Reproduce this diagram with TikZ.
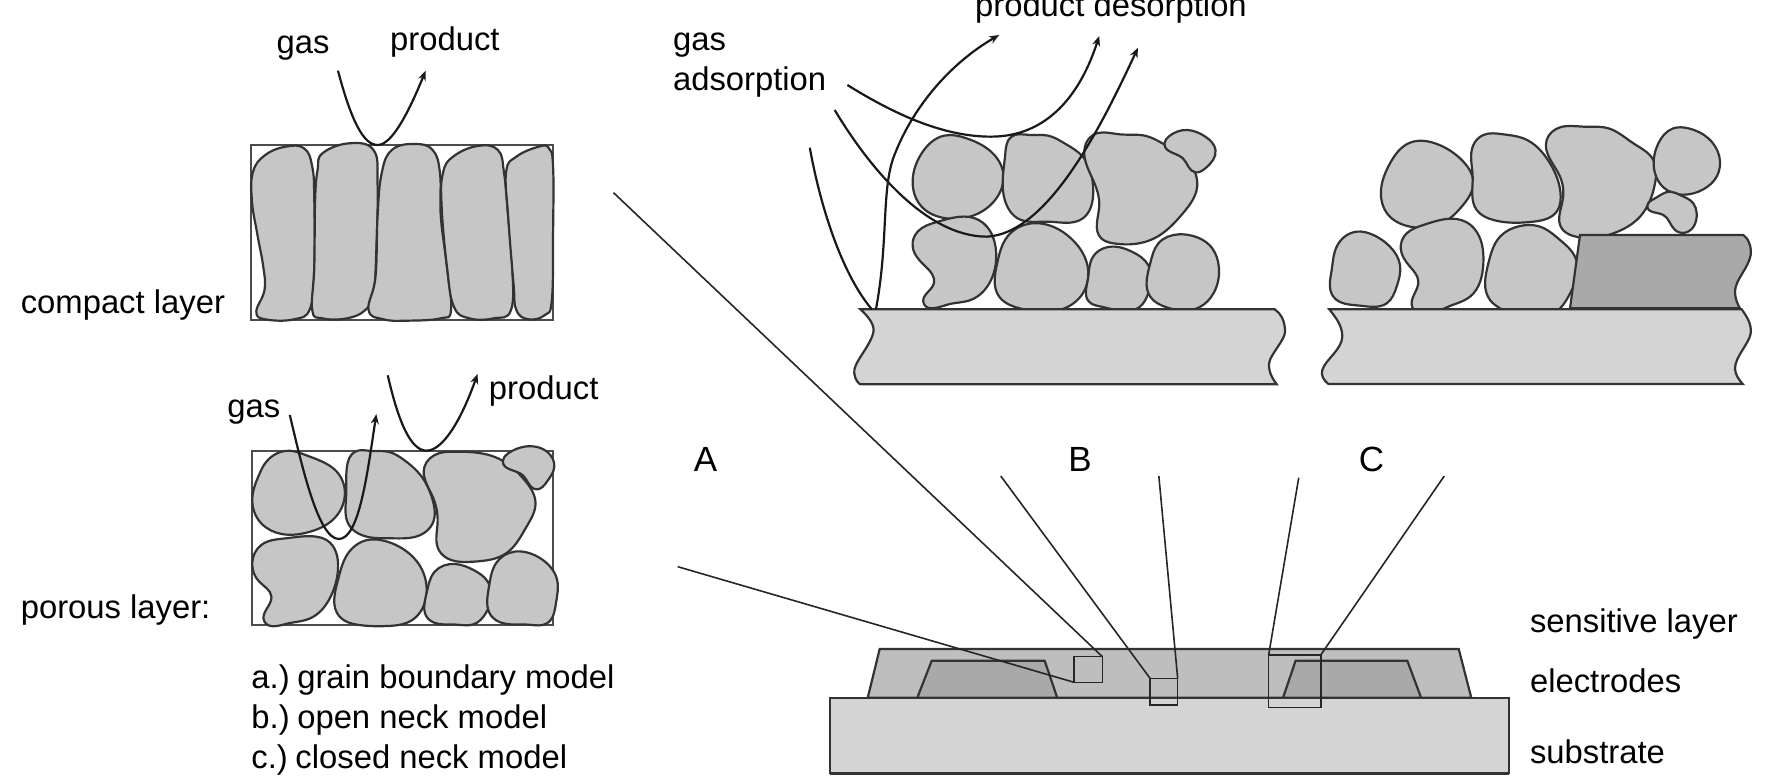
\documentclass[tikz,border=0pt]{standalone}
\usepackage{fontspec}
\setmainfont{Liberation Sans}
\usetikzlibrary{arrows.meta,hobby}
\definecolor{grainc}{HTML}{C6C6C6}
\definecolor{subc}{HTML}{D4D4D4}
\definecolor{sensc}{HTML}{BEBEBE}
\definecolor{elecc}{HTML}{A9A9A9}
\definecolor{edgec}{HTML}{333333}
\tikzset{
  grainst/.style={draw=edgec,fill=grainc,line width=1.1pt},
  wafer/.style={draw=edgec,fill=subc,line width=1.1pt},
  flow/.style={draw=black!90,line width=1.1pt},
  flowa/.style={flow,-{Stealth[length=5pt,width=4pt]}},
  frame/.style={draw=black!70,line width=.9pt},
  lead/.style={draw=black!85,line width=.8pt},
  lab/.style={anchor=base west,inner sep=0pt,yshift=-1pt,font=\fontsize{16.4}{18}\selectfont,text=black},
  bigl/.style={anchor=base west,inner sep=0pt,yshift=-1pt,font=\fontsize{17.5}{19}\selectfont,text=black},
  zwide/.style={x=0.20408pt,y=-0.16667pt},
  zfour/.style={x=0.16667pt,y=-0.16667pt},
  zlow/.style={x=0.31368pt,y=-0.16667pt}
}
\newcommand\grain[1]{\draw[grainst,use Hobby shortcut,closed=true] #1;}
\newcommand\column[1]{\draw[grainst] plot[smooth cycle,tension=.7] coordinates {#1};}
\begin{document}
\begin{tikzpicture}
\useasboundingbox (0pt,0pt) rectangle (892pt,-389.5pt);

% compact layer
\begin{scope}[shift={(0pt,0pt)},zwide]
\draw[frame,fill=white] (614,436) rectangle (1354,961);
\column{(700,440)(650,465)(620,515)(617,600)(630,700)(645,800)(648,870)(628,935)(650,958)(720,958)(760,925)(770,800)(770,600)(765,500)(745,445)}
\column{(855,430)(790,460)(778,510)(772,600)(770,800)(765,930)(790,955)(850,955)(895,930)(915,880)(922,750)(925,550)(915,450)}
\column{(1015,432)(960,450)(935,520)(925,650)(920,830)(903,930)(940,958)(1000,962)(1080,955)(1105,930)(1095,800)(1080,650)(1078,520)(1060,450)}
\column{(1170,438)(1110,470)(1085,520)(1082,620)(1095,800)(1112,920)(1150,955)(1210,955)(1252,930)(1255,800)(1245,650)(1235,520)(1220,450)}
\column{(1320,440)(1265,470)(1240,515)(1245,650)(1258,850)(1265,930)(1295,958)(1335,945)(1352,900)(1355,700)(1355,500)(1345,445)}
\draw[flowa] (828,212) .. controls (860,360) and (890,435) .. (925,435) .. controls (960,435) and (1000,340) .. (1043,212);
\node[lab] (tgas1) at (677,155) {gas};
\node[lab] (tprod1) at (955,145) {product};
\node[lab] (tcompact) at (50,935) {compact layer};
\coordinate (leadAtop) at (1503,578);
\end{scope}

% porous layer
\begin{scope}[shift={(0pt,-195pt)},zwide]
\draw[frame,fill=white] (617,182) rectangle (1354,704);
\grain{(690,185)..(640,240)..(618,330)..(640,400)..(690,432)..(760,425)..(815,390)..(845,310)..(825,245)..(770,205)..(730,187)}
\grain{(870,185)..(850,230)..(848,320)..(855,405)..(890,437)..(960,445)..(1030,435)..(1060,400)..(1060,330)..(1030,255)..(990,210)..(950,185)..(910,183)}
\grain{(1075,190)..(1040,230)..(1060,320)..(1072,400)..(1075,480)..(1105,510)..(1160,515)..(1240,490)..(1290,410)..(1312,340)..(1285,270)..(1220,205)..(1160,187)..(1115,185)}
\grain{(1285,170)..(1245,190)..(1232,212)..(1280,255)..(1315,298)..(1340,275)..(1358,230)..(1340,185)}
\grain{(700,445)..(640,465)..(618,520)..(635,575)..(665,620)..(648,695)..(700,702)..(760,685)..(810,620)..(828,540)..(800,450)..(775,440)}
\grain{(900,450)..(850,495)..(828,570)..(832,680)..(880,705)..(950,708)..(1010,690)..(1045,610)..(1030,530)..(985,475)..(940,452)}
\grain{(1115,522)..(1065,545)..(1045,610)..(1048,685)..(1085,703)..(1120,704)..(1160,703)..(1190,670)..(1195,575)..(1160,540)}
\grain{(1260,485)..(1215,520)..(1198,590)..(1205,680)..(1250,703)..(1295,704)..(1340,700)..(1362,640)..(1365,570)..(1330,510)..(1290,487)}
\draw[flowa] (710,75) .. controls (740,230) and (780,447) .. (830,447) .. controls (880,447) and (900,250) .. (922,72);
\draw[flowa] (950,-44) .. controls (975,90) and (1005,182) .. (1045,182) .. controls (1085,182) and (1130,90) .. (1170,-48);
\node[lab] (tgas2) at (556,78) {gas};
\node[lab] (tprod2) at (1197,22) {product};
\node[lab] (tporous) at (50,680) {porous layer:};
\node[lab] (tma) at (615,888) {a.)\hspace{3.8pt}grain boundary model};
\node[lab] (tmb) at (615,1008) {b.)\hspace{3.8pt}open neck model};
\node[lab] (tmc) at (615,1130) {c.)\hspace{3.8pt}closed neck model};
\end{scope}

% magnified view B
\begin{scope}[shift={(320pt,0pt)},zwide]
\grain{(745,407)..(690,460)..(668,540)..(690,620)..(750,655)..(820,645)..(870,600)..(890,520)..(860,455)..(800,415)}
\grain{(910,410)..(895,460)..(900,620)..(925,655)..(1000,665)..(1085,655)..(1105,620)..(1110,560)..(1085,470)..(1040,430)..(1000,407)..(955,405)}
\grain{(1110,405)..(1090,440)..(1110,540)..(1125,620)..(1130,715)..(1160,730)..(1260,715)..(1330,640)..(1365,560)..(1340,480)..(1280,430)..(1240,408)..(1175,403)}
\grain{(1340,390)..(1295,410)..(1285,430)..(1330,475)..(1360,517)..(1385,505)..(1410,450)..(1385,410)}
\grain{(730,665)..(680,695)..(668,740)..(700,800)..(720,850)..(695,910)..(750,915)..(810,900)..(860,840)..(872,750)..(850,680)..(830,660)}
\grain{(960,670)..(900,710)..(875,790)..(880,890)..(930,925)..(1040,925)..(1085,880)..(1095,790)..(1060,720)..(1000,675)}
\grain{(1165,740)..(1110,770)..(1097,840)..(1100,905)..(1130,920)..(1225,920)..(1245,880)..(1245,795)..(1205,755)}
\grain{(1320,703)..(1270,730)..(1250,790)..(1250,890)..(1290,922)..(1370,922)..(1405,880)..(1418,800)..(1395,735)..(1355,708)}
\draw[wafer] (540,928) -- (1555,928) .. controls (1570,940) and (1578,960) .. (1580,985) .. controls (1585,1010) and (1560,1040) .. (1545,1075) .. controls (1535,1100) and (1545,1130) .. (1560,1153) -- (540,1153) .. controls (535,1150) and (527,1140) .. (525,1120) .. controls (520,1090) and (565,1040) .. (572,995) .. controls (575,975) and (560,950) .. (540,928) -- cycle;
\draw[flow] (416,443) .. controls (445,640) and (500,830) .. (568,928);
\draw[flowa] (578,928) .. controls (610,720) and (590,560) .. (625,460) .. controls (670,320) and (760,190) .. (880,105);
\draw[flowa] (508,255) .. controls (620,340) and (740,410) .. (860,410) .. controls (1000,410) and (1080,280) .. (1125,108);
\draw[flowa] (477,330) .. controls (560,500) and (700,710) .. (850,710) .. controls (1000,700) and (1130,380) .. (1220,143);
\node[lab] (tgas3) at (80,145) {gas};
\node[lab] (tads) at (80,265) {adsorption};
\node[lab,yshift=1pt] (tdes) at (820,50) {product desorption};
\end{scope}

% magnified view C
\begin{scope}[shift={(640pt,-50pt)},zfour]
\grain{(390,128)..(330,190)..(303,270)..(325,345)..(390,380)..(490,368)..(545,320)..(580,245)..(550,185)..(465,130)}
\grain{(610,105)..(580,135)..(578,230)..(590,330)..(640,360)..(760,365)..(830,335)..(842,290)..(810,190)..(730,115)..(670,103)}
\grain{(840,82)..(800,120)..(840,230)..(848,300)..(845,385)..(880,408)..(1000,400)..(1080,350)..(1125,250)..(1120,180)..(1060,130)..(985,85)..(910,80)}
\grain{(1180,85)..(1135,130)..(1125,220)..(1150,262)..(1270,268)..(1310,230)..(1318,170)..(1285,115)..(1225,85)}
\grain{(1170,275)..(1125,295)..(1102,318)..(1150,345)..(1185,390)..(1215,398)..(1250,340)..(1240,310)..(1200,285)}
\grain{(230,395)..(170,440)..(155,510)..(160,590)..(240,617)..(320,610)..(350,560)..(360,495)..(330,440)..(280,405)}
\grain{(560,367)..(430,375)..(380,400)..(362,445)..(390,500)..(415,545)..(397,622)..(500,622)..(570,590)..(610,490)..(605,430)}
\grain{(720,378)..(660,410)..(625,490)..(630,600)..(660,625)..(840,625)..(865,590)..(885,470)..(840,420)..(780,380)}
\draw[grainst,fill=elecc] (900,405) -- (1390,405) .. controls (1405,415) and (1415,440) .. (1412,465) .. controls (1405,505) and (1365,540) .. (1365,575) .. controls (1365,595) and (1372,612) .. (1380,625) -- (870,625) -- cycle;
\draw[wafer] (148,628) -- (1385,628) .. controls (1400,650) and (1415,670) .. (1412,700) .. controls (1408,730) and (1365,770) .. (1365,805) .. controls (1365,825) and (1378,840) .. (1388,852) -- (145,852) .. controls (130,840) and (122,825) .. (127,810) .. controls (135,780) and (185,750) .. (187,710) .. controls (187,675) and (165,650) .. (148,628) -- cycle;
\end{scope}

% device cross-section
\begin{scope}[shift={(400pt,-215pt)},zlow]
\draw[wafer] (48,805) rectangle (1130,1030);
\draw[edgec,line width=1.6pt] (48,1030) -- (1130,1030);
\draw[grainst,fill=sensc] (108,803) -- (127,657) -- (1050,657) -- (1070,803) -- cycle;
\draw[grainst,fill=elecc] (187,803) -- (210,692) -- (390,692) -- (410,803) -- cycle;
\draw[grainst,fill=elecc] (770,803) -- (790,692) -- (968,692) -- (990,803) -- cycle;
\draw[lead] (437,680) rectangle (482,757);
\draw[lead] (558,745) rectangle (602,825);
\draw[lead] (747,675) rectangle (830,833);
\coordinate (boxAbl) at (437,757);
\coordinate (boxAtr) at (482,680);
\coordinate (boxBtl) at (558,745);
\coordinate (boxBtr) at (602,745);
\coordinate (boxCtl) at (747,675);
\coordinate (boxCtr) at (830,675);
\coordinate (leadAlow) at (-195,410);
\coordinate (leadBl) at (320,138);
\coordinate (leadBr) at (572,138);
\coordinate (leadCl) at (795,143);
\coordinate (leadCr) at (1027,138);
\node[bigl] (tB) at (427,120) {B};
\node[bigl] (tC) at (890,120) {C};
\node[bigl] (tA) at (-170,120) {A};
\node[lab] (tsens) at (1163,600) {sensitive layer};
\node[lab] (telec) at (1163,780) {electrodes};
\node[lab] (tsub) at (1163,995) {substrate};
\end{scope}
\draw[lead] (leadAtop) -- (boxAtr);
\draw[lead] (leadAlow) -- (boxAbl);
\draw[lead] (leadBl) -- (boxBtl);
\draw[lead] (leadBr) -- (boxBtr);
\draw[lead] (leadCl) -- (boxCtl);
\draw[lead] (leadCr) -- (boxCtr);
\end{tikzpicture}
\end{document}
